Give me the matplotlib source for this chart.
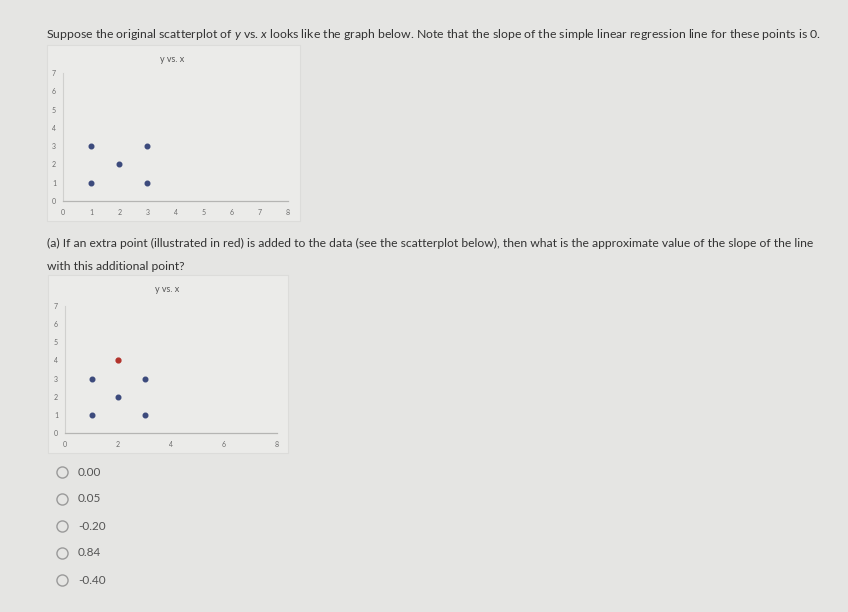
"""
Recria a captura do enunciado: dois gráficos de dispersão "y vs. x" e as alternativas.

Saída: out.png (848x612)
"""
import matplotlib
matplotlib.use("Agg")
import matplotlib.pyplot as plt
from matplotlib.patches import Rectangle

plt.rcParams["font.family"] = ["Lato", "DejaVu Sans"]
plt.rcParams["mathtext.fontset"] = "custom"
plt.rcParams["mathtext.rm"] = "Lato"
plt.rcParams["mathtext.it"] = "Lato:italic"

# ── dados ──────────────────────────────────────────────────────────────────────
x_orig = [1, 1, 2, 3, 3]
y_orig = [3, 1, 2, 3, 1]
x_extra = [2]
y_extra = [4]

ticks_top_x = [0, 1, 2, 3, 4, 5, 6, 7, 8]
ticks_bottom_x = [0, 2, 4, 6, 8]
ticks_y = [0, 1, 2, 3, 4, 5, 6, 7]

chart_title = "y vs. x"
line_intro = ("Suppose the original scatterplot of $y$ vs. $x$ looks like the graph below. "
              "Note that the slope of the simple linear regression line for these points is 0.")
line_q1 = ("(a) If an extra point (illustrated in red) is added to the data (see the scatterplot "
           "below), then what is the approximate value of the slope of the line")
line_q2 = "with this additional point?"
options = ["0.00", "0.05", "-0.20", "0.84", "-0.40"]

# ── cores ──────────────────────────────────────────────────────────────────────
BG = "#e5e5e3"
BOX = "#ebebe9"
TEXT = "#333333"
GREY = "#6c6c6c"
BLUE = "#3c4a7c"
RED = "#b2322b"

W, H = 848, 612
fig = plt.figure(figsize=(W / 100, H / 100), dpi=100, facecolor=BG)

page = fig.add_axes([0, 0, 1, 1])
page.set_xlim(0, W)
page.set_ylim(H, 0)
page.axis("off")


def fit_text(x, y, s, width, size=8.0):
    t = page.text(x, y, s, fontsize=size, va="center", ha="left", color=TEXT)
    r = fig.canvas.get_renderer()
    w = t.get_window_extent(r).width
    t.set_fontsize(size * width / w)
    return t


fit_text(46, 34, line_intro, 774)
q1 = fit_text(47, 243, line_q1, 775)
page.text(47, 267, line_q2, fontsize=q1.get_fontsize(), va="center", ha="left", color=TEXT)

# caixas dos gráficos
page.add_patch(Rectangle((47, 45), 253, 176, facecolor=BOX, edgecolor="#dcdcda", lw=0.8))
page.add_patch(Rectangle((48, 275), 240, 178, facecolor=BOX, edgecolor="#dcdcda", lw=0.8))
page.text(172, 59, chart_title, fontsize=6.5, color="#555555", ha="center", va="center")
page.text(167, 289, chart_title, fontsize=6.5, color="#555555", ha="center", va="center")


def px_axes(l, t, r, b):
    return fig.add_axes([l / W, 1 - b / H, (r - l) / W, (b - t) / H])


def style(ax, xt):
    ax.set_facecolor("none")
    ax.set_xlim(0, 8)
    ax.set_ylim(0, 7)
    ax.set_xticks(xt)
    ax.set_yticks(ticks_y)
    ax.tick_params(length=0, labelsize=5, labelcolor=GREY)
    ax.tick_params(axis="y", pad=5)
    ax.tick_params(axis="x", pad=6)
    ax.spines[["top", "right"]].set_visible(False)
    ax.spines["left"].set_color("#d0d0ce")
    ax.spines["bottom"].set_color("#b5b5b3")
    ax.spines["left"].set_linewidth(0.8)
    ax.spines["bottom"].set_linewidth(0.9)


ax1 = px_axes(63, 73, 288, 201)
style(ax1, ticks_top_x)
ax1.scatter(x_orig, y_orig, s=11, color=BLUE, zorder=3)

ax2 = px_axes(65, 306, 277, 433)
style(ax2, ticks_bottom_x)
ax2.scatter(x_orig, y_orig, s=11, color=BLUE, zorder=3)
ax2.scatter(x_extra, y_extra, s=12, color=RED, zorder=3)

# alternativas
opt_y = [472, 499, 526, 553, 580]
for yy, s in zip(opt_y, options):
    page.plot(62, yy, marker="o", ms=8, mfc="none", mec="#9a9a9a", mew=1.0)
    page.text(78, yy, s, fontsize=8.5, color="#555555", va="center", ha="left")

fig.savefig("out.png", dpi=100, facecolor=BG)
